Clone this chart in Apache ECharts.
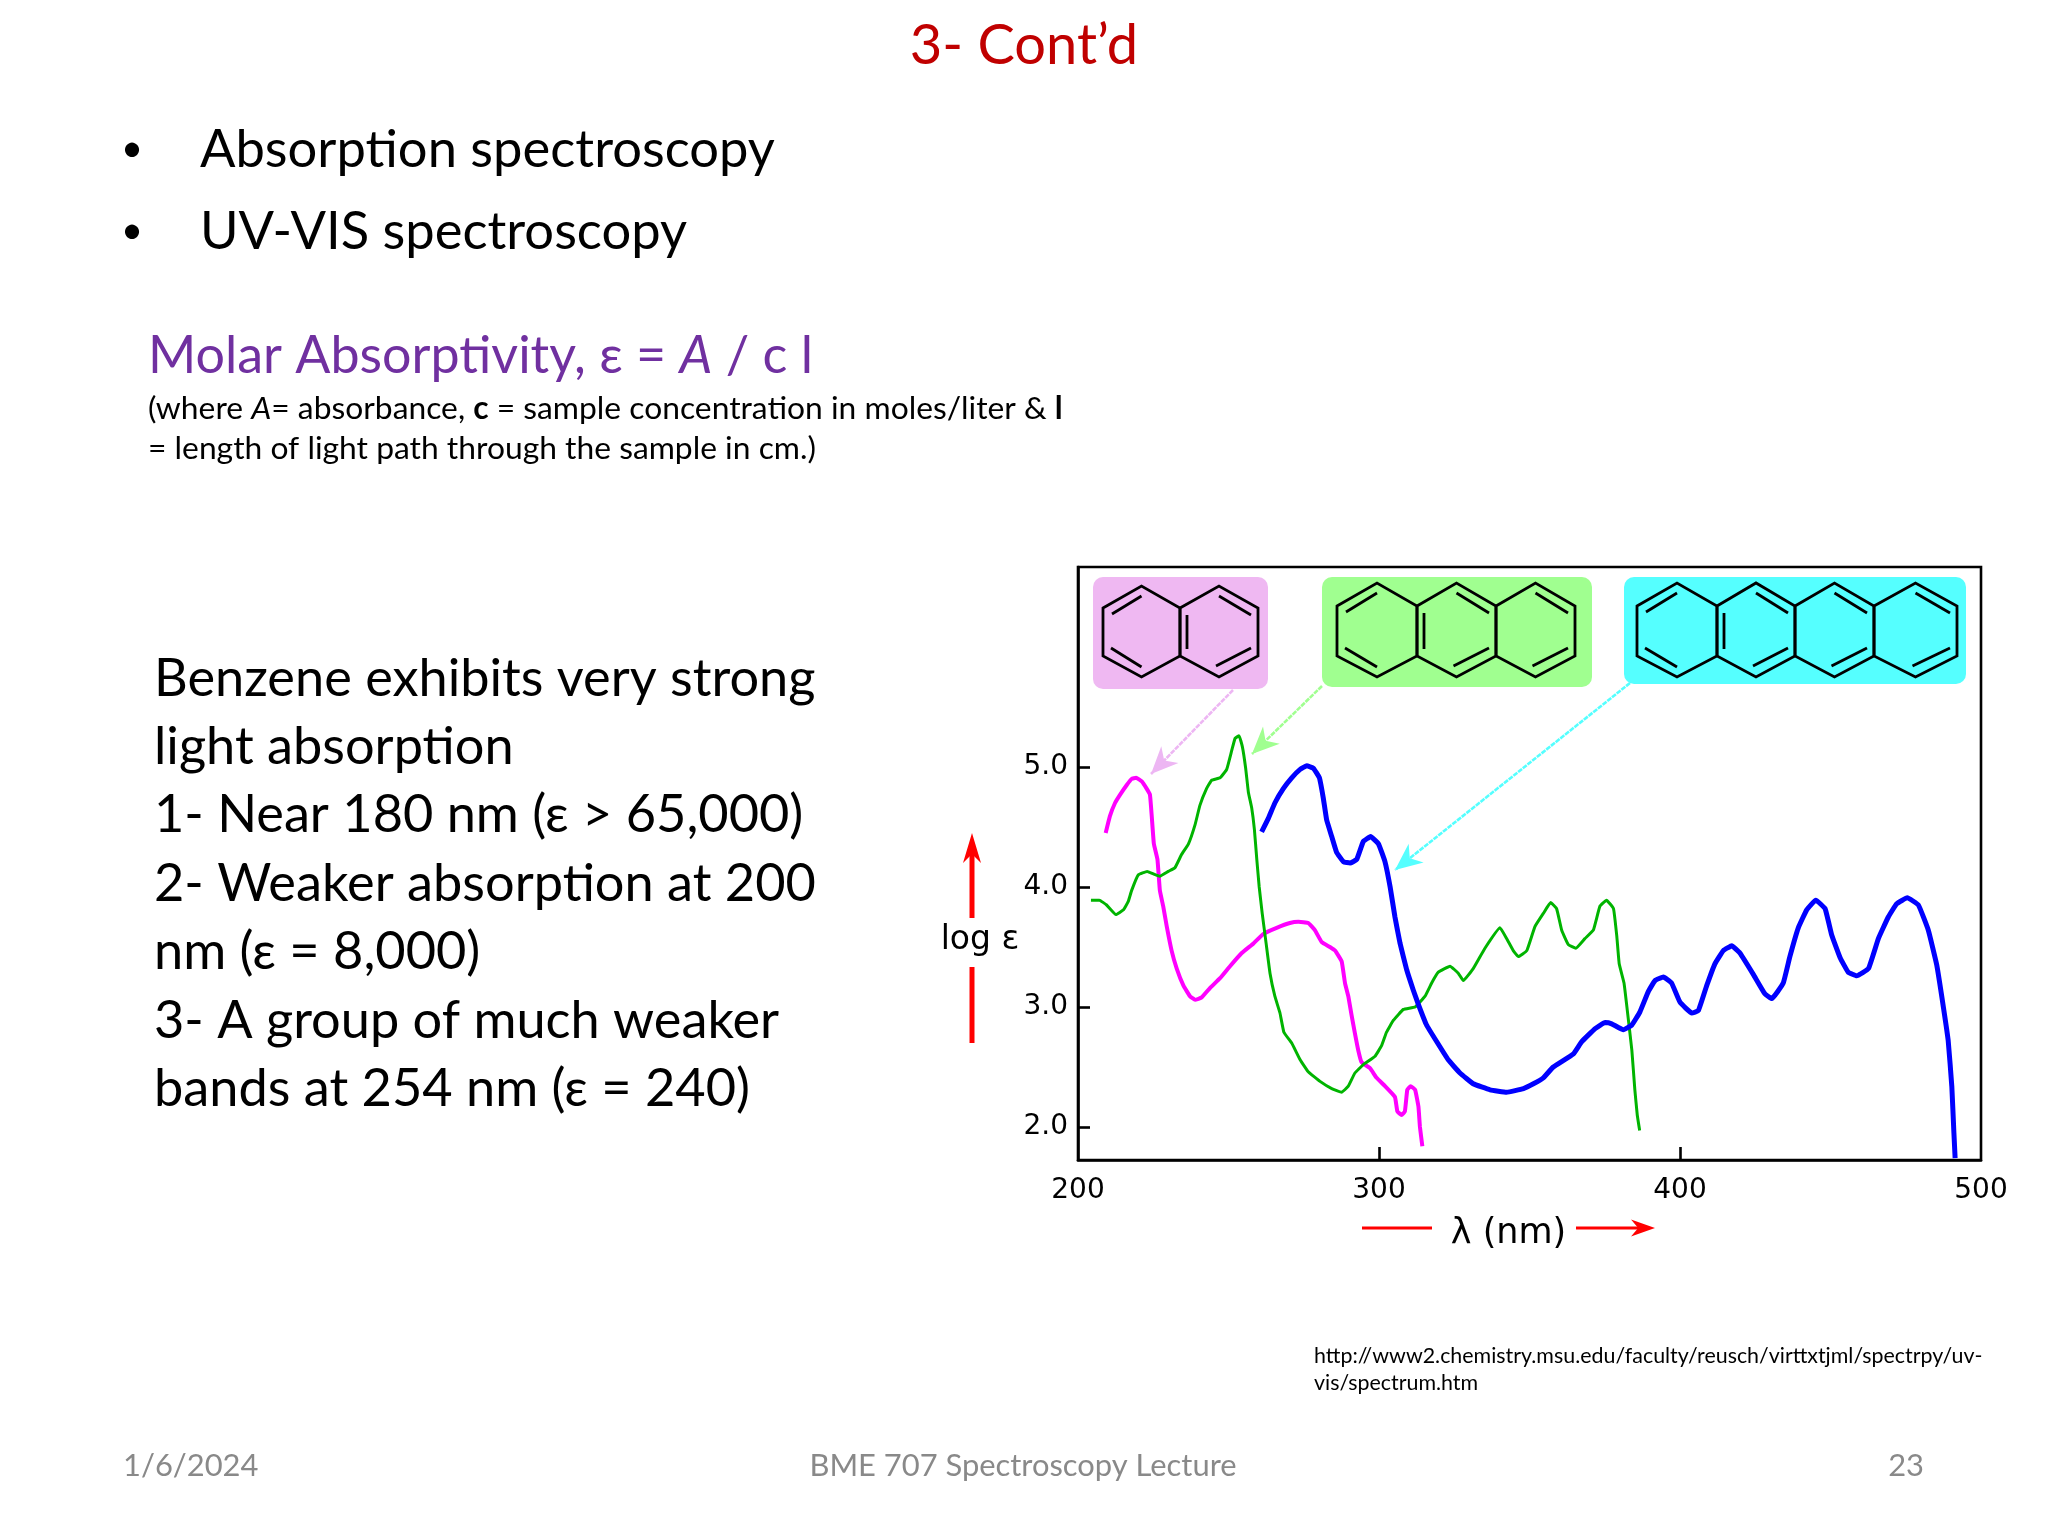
<!DOCTYPE html>
<html><head><meta charset="utf-8">
<style>html,body{margin:0;padding:0;background:#fff}#c{width:2048px;height:1536px}</style>
<script src="https://cdn.jsdelivr.net/npm/echarts@6/dist/echarts.min.js"></script>
</head><body><div id="c"></div>
<script>
const xTicks=[300,400];
const xLabels=[200,300,400,500];
const yLabels=[2,3,4,5];
const naphthalene=[[209.2,4.45],[210.6,4.59],[212.3,4.70],[214.0,4.77],[216.2,4.85],[217.8,4.90],[219.3,4.91],[221.2,4.88],[222.8,4.82],[223.9,4.77],[224.5,4.59],[225.2,4.36],[226.4,4.23],[227.2,3.97],[228.3,3.84],[229.5,3.67],[231.1,3.47],[232.8,3.32],[235.0,3.18],[237.2,3.09],[238.9,3.06],[241.1,3.08],[243.9,3.16],[247.2,3.24],[250.5,3.34],[254.4,3.45],[258.3,3.53],[261.6,3.61],[266.0,3.66],[270.4,3.70],[273.2,3.71],[276.5,3.70],[278.7,3.64],[281.0,3.54],[283.7,3.50],[285.4,3.47],[287.6,3.38],[288.7,3.20],[289.8,3.09],[290.9,2.93],[292.0,2.78],[293.1,2.64],[294.2,2.54],[297.0,2.49],[299.2,2.41],[302.0,2.34],[305.3,2.25],[306.1,2.13],[307.5,2.10],[308.6,2.13],[309.4,2.31],[310.5,2.34],[312.0,2.31],[313.1,2.17],[313.6,2.00],[314.4,1.84]];
const anthracene=[[204.3,3.89],[207.1,3.89],[209.5,3.85],[212.6,3.77],[215.1,3.81],[216.7,3.88],[217.8,3.97],[220.0,4.10],[223.0,4.13],[225.0,4.11],[227.2,4.09],[230.0,4.13],[232.2,4.16],[234.4,4.27],[236.7,4.36],[238.9,4.52],[240.5,4.68],[242.7,4.82],[244.4,4.89],[247.2,4.91],[249.4,4.98],[251.1,5.14],[252.2,5.24],[253.5,5.26],[254.6,5.17],[255.7,4.99],[256.6,4.79],[257.7,4.66],[258.6,4.48],[259.4,4.23],[260.2,4.00],[261.2,3.78],[262.5,3.53],[263.8,3.28],[265.4,3.09],[267.1,2.95],[268.4,2.79],[271.0,2.70],[273.8,2.56],[276.5,2.46],[280.4,2.38],[284.3,2.32],[287.6,2.29],[289.8,2.34],[292.0,2.45],[294.8,2.52],[298.7,2.59],[300.9,2.68],[302.5,2.79],[304.8,2.89],[308.1,2.98],[312.0,3.00],[315.3,3.09],[317.5,3.20],[319.7,3.29],[323.6,3.34],[326.4,3.28],[328.0,3.22],[331.3,3.32],[335.2,3.49],[340.2,3.66],[342.4,3.57],[344.6,3.47],[346.3,3.42],[349.1,3.47],[351.8,3.67],[354.6,3.78],[357.0,3.87],[359.0,3.82],[360.7,3.64],[362.9,3.52],[365.4,3.49],[368.4,3.57],[371.2,3.64],[373.4,3.84],[375.6,3.89],[377.9,3.82],[379.0,3.59],[379.8,3.36],[381.4,3.20],[382.5,2.97],[384.0,2.64],[385.0,2.31],[385.8,2.10],[386.6,1.97]];
const tetracene=[[261.0,4.46],[263.2,4.57],[265.4,4.70],[268.2,4.82],[271.0,4.91],[273.8,4.98],[276.0,5.01],[278.2,4.99],[280.2,4.91],[281.5,4.74],[282.6,4.56],[284.3,4.42],[285.9,4.29],[288.2,4.21],[290.4,4.20],[292.6,4.23],[294.8,4.38],[297.2,4.42],[299.8,4.36],[302.0,4.21],[303.7,4.00],[305.3,3.75],[307.0,3.53],[309.2,3.31],[311.4,3.14],[313.1,3.02],[315.8,2.85],[319.2,2.71],[323.0,2.56],[326.9,2.45],[331.3,2.36],[336.9,2.31],[342.4,2.29],[348.0,2.32],[351.3,2.36],[354.6,2.41],[357.9,2.50],[364.6,2.61],[367.3,2.71],[371.8,2.82],[375.1,2.87],[377.3,2.86],[381.2,2.81],[384.0,2.85],[386.7,2.96],[389.5,3.13],[391.7,3.22],[394.5,3.25],[397.2,3.20],[400.0,3.04],[403.9,2.95],[406.1,2.97],[408.9,3.18],[411.6,3.36],[414.4,3.47],[417.2,3.51],[419.9,3.45],[424.4,3.27],[428.2,3.11],[430.5,3.07],[434.3,3.20],[436.5,3.42],[439.3,3.66],[442.1,3.81],[445.1,3.89],[448.2,3.82],[450.4,3.60],[453.2,3.41],[455.9,3.29],[458.7,3.26],[462.6,3.32],[465.9,3.57],[469.2,3.75],[472.0,3.86],[475.5,3.91],[479.2,3.85],[482.5,3.64],[485.3,3.35],[487.5,3.00],[489.1,2.72],[490.3,2.34],[491.0,1.95],[491.4,1.74]];
const titleText="3- Cont’d";
const bulletLines=["Absorption spectroscopy","UV-VIS spectroscopy"];
const noteLines=["= length of light path through the sample in cm.)"];
const bodyLines=["Benzene exhibits very strong","light absorption","1- Near 180 nm (ε > 65,000)","2- Weaker absorption at 200","nm (ε = 8,000)","3- A group of much weaker","bands at 254 nm (ε = 240)"];
const sourceLines=["http://www2.chemistry.msu.edu/faculty/reusch/virttxtjml/spectrpy/uv-","vis/spectrum.htm"];
const footerTexts=["1/6/2024","BME 707 Spectroscopy Lecture","23"];

const FONT='Lato';
const AX='DejaVu Sans';
function txt(x,y,s,size,color,align,rich,family){
  const fam=family||FONT;
  return {type:'text',x:x,y:y,z:20,style:{text:s,fontFamily:fam,fontSize:size,fill:color,align:align||'left',verticalAlign:'middle',rich:rich}};
}
function line(x1,y1,x2,y2,color,w,dash){
  return {type:'line',z:5,shape:{x1,y1,x2,y2},style:{stroke:color,lineWidth:w,lineDash:dash||null}};
}
function head(tx,ty,fx,fy,color,len,wid){
  const d=Math.hypot(tx-fx,ty-fy),ux=(tx-fx)/d,uy=(ty-fy)/d,px=-uy,py=ux;
  return {type:'polygon',z:6,shape:{points:[[tx,ty],[tx-ux*len+px*wid/2,ty-uy*len+py*wid/2],[tx-ux*len*.7,ty-uy*len*.7],[tx-ux*len-px*wid/2,ty-uy*len-py*wid/2]]},style:{fill:color}};
}
function arrow(fx,fy,tx,ty,color){
  return [line(fx,fy,tx,ty,color,2.6,[5,1]),head(tx,ty,fx,fy,color,27,24)];
}
function molecule(edges,yTop,yU,yL,yBot,kinds){
  const out=[];const ink='#000';const w=2.8;
  for(let i=0;i<edges.length-1;i++){
    const a=edges[i],b=edges[i+1],c=(a+b)/2;
    out.push({type:'polygon',z:7,shape:{points:[[a,yU],[c,yTop],[b,yU],[b,yL],[c,yBot],[a,yL]]},style:{fill:'none',stroke:ink,lineWidth:w}});
    (kinds[i]||'').split('').forEach(k=>{
      if(k==='a')out.push(line(a+9,yU+6,c,yTop+10,ink,w));
      if(k==='b')out.push(line(a+8,yL-8,c,yBot-10,ink,w));
      if(k==='c')out.push(line(c,yTop+10,b-7,yU+7,ink,w));
      if(k==='d')out.push(line(c-3,yBot-11,b-7,yL-8,ink,w));
      if(k==='v')out.push(line(a+7,yU+7,a+7,yL-7,ink,w));
    });
    out.forEach(o=>o.z=7);
  }
  return out;
}
function box(x1,y1,x2,y2,color){
  return {type:'rect',z:4,shape:{x:x1,y:y1,width:x2-x1,height:y2-y1,r:10},style:{fill:color}};
}
const RED='#ff0000',PINK='#EDB6F3',LIME='#A0FF90',AQUA='#55FFFF';
const graphics=[
  txt(1024,46,titleText,56,'#C00000','center'),
  txt(132,149,'•',38,'#000','center'),txt(200,150,bulletLines[0],52.5,'#000'),
  txt(132,231,'•',38,'#000','center'),txt(200,232,bulletLines[1],52.5,'#000'),
  txt(148,356,'Molar Absorptivity, ε = {i|A} / c l',52,'#7030A0','left',{i:{fontFamily:FONT,fontSize:52,fontStyle:'italic',fill:'#7030A0'}}),
  txt(148,409,'(where {i|A}= absorbance, {b|c} = sample concentration in moles/liter & {b|l}',31.8,'#000','left',{i:{fontFamily:FONT,fontSize:31.8,fontStyle:'italic'},b:{fontFamily:FONT,fontSize:31.8,fontWeight:'bold'}}),
  txt(148,449,noteLines[0],31.8,'#000'),
  ...bodyLines.map((s,i)=>txt(154,[679,747,815,884,952,1021,1089][i],s,52.3,'#000')),
  ...sourceLines.map((s,i)=>txt(1314,[1356,1383][i],s,21.4,'#000')),
  txt(123,1466,footerTexts[0],30.9,'#898989'),
  txt(1023,1466,footerTexts[1],30.9,'#898989','center'),
  txt(1924,1466,footerTexts[2],30.9,'#898989','right'),
  txt(980,940,'log ε',33,'#000','center',undefined,AX),
  box(1093,577,1268,689,'#EFB8F2'),box(1322,577,1592,687,LIME),box(1624,577,1966,684,AQUA),
  ...molecule([1103,1180,1258],586,608,656,677,['ab','vcd']),
  ...molecule([1337,1417,1496,1575],583,606,656,677,['ab','vcd','cd']),
  ...molecule([1637,1717,1795,1874,1957],583,606,656,677,['ab','vcd','cd','cd']),
  ...arrow(1233,690,1151,774,PINK),
  ...arrow(1322,686,1252,754,LIME),
  ...arrow(1630,683,1395,870,AQUA),
  line(972,918,972,850,RED,5),head(972,833,972,918,RED,30,18),
  line(972,967,972,1043,RED,5),
  line(1362,1228,1432,1228,RED,3),
  line(1576,1228,1640,1228,RED,3),head(1655,1228,1576,1228,RED,24,17)
];
const chart=echarts.init(document.getElementById('c'),null,{renderer:'canvas'});
function lineSeries(name,data,color,width){
  return {name,type:'line',data,showSymbol:false,symbol:'none',smooth:0.1,lineStyle:{color,width,join:'round'},z:3,animation:false};
}
chart.setOption({
  animation:false,backgroundColor:'#fff',
  grid:{left:1078,right:67,top:567,height:593,show:true,borderColor:'#000',borderWidth:2.6,backgroundColor:'transparent'},
  xAxis:{type:'value',min:200,max:500,interval:100,
    name:'λ (nm)',nameLocation:'middle',nameGap:56,
    nameTextStyle:{fontFamily:AX,fontSize:35,color:'#000',padding:[0,42,0,0]},
    axisLine:{lineStyle:{color:'#000',width:2.6}},
    axisTick:{show:true,inside:true,length:13,customValues:xTicks,lineStyle:{color:'#000',width:2.6}},
    axisLabel:{customValues:xLabels,fontFamily:AX,fontSize:28,color:'#000',margin:17},
    splitLine:{show:false}},
  yAxis:{type:'value',min:1.725,max:6.6667,
    axisLine:{show:true,lineStyle:{color:'#000',width:2.6}},
    axisTick:{show:true,inside:true,length:12,customValues:yLabels,lineStyle:{color:'#000',width:2.6}},
    axisLabel:{customValues:yLabels,fontFamily:AX,fontSize:28,color:'#000',margin:10,formatter:v=>v.toFixed(1)},
    splitLine:{show:false}},
  series:[lineSeries('Naphthalene',naphthalene,'#FF00FF',4),lineSeries('Anthracene',anthracene,'#00B400',3),lineSeries('Tetracene',tetracene,'#0000FF',5)],
  graphic:{elements:graphics}
});
</script></body></html>
